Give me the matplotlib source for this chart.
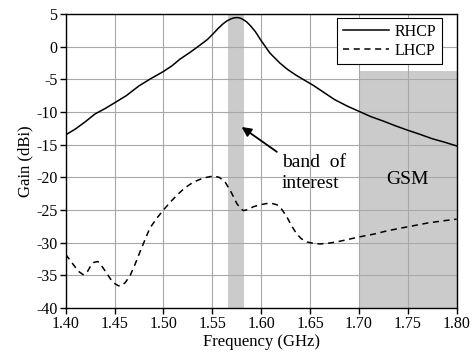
import numpy as np
import matplotlib
matplotlib.use("Agg")
import matplotlib.pyplot as plt

# ============================================================
# DATA
# ============================================================
rhcp_freq = [1.400, 1.410, 1.420, 1.430, 1.440, 1.450, 1.462, 1.475, 1.487,
             1.500, 1.509, 1.517, 1.527, 1.5375, 1.545, 1.551, 1.556, 1.561,
             1.565, 1.569, 1.572, 1.575, 1.578, 1.581, 1.585, 1.589, 1.594,
             1.600, 1.609, 1.619, 1.627, 1.636, 1.645, 1.653, 1.665, 1.675,
             1.688, 1.700, 1.712, 1.725, 1.737, 1.750, 1.762, 1.775, 1.787,
             1.800]
rhcp_gain = [-13.5, -12.6, -11.5, -10.3, -9.5, -8.6, -7.5, -6.0, -4.9,
             -3.8, -2.9, -1.9, -0.9, 0.25, 1.1, 2.0, 2.8, 3.5,
             3.95, 4.25, 4.4, 4.45, 4.4, 4.2, 3.8, 3.2, 2.3,
             0.9, -1.0, -2.5, -3.5, -4.4, -5.2, -5.9, -7.1, -8.1,
             -9.1, -9.9, -10.7, -11.4, -12.1, -12.8, -13.4, -14.1, -14.6,
             -15.2]

lhcp_freq = [1.400, 1.405, 1.4095, 1.414, 1.418, 1.422, 1.425, 1.429, 1.433,
             1.437, 1.442, 1.446, 1.4505, 1.454, 1.457, 1.461, 1.466, 1.471,
             1.476, 1.481, 1.486, 1.493, 1.500, 1.507, 1.514, 1.522, 1.531,
             1.541, 1.551, 1.557, 1.563, 1.569, 1.575, 1.579, 1.582, 1.587,
             1.592, 1.599, 1.606, 1.611, 1.616, 1.621, 1.626, 1.631, 1.636,
             1.641, 1.647, 1.653, 1.660, 1.668, 1.677, 1.689, 1.701, 1.715,
             1.7285, 1.742, 1.756, 1.770, 1.784, 1.800]
lhcp_gain = [-31.8, -32.8, -33.7, -34.5, -34.9, -34.5, -33.7, -33.0, -32.9,
             -33.6, -34.7, -35.6, -36.3, -36.6, -36.6, -36.1, -35.0, -33.3,
             -31.4, -29.6, -27.8, -26.3, -25.0, -23.8, -22.7, -21.6, -20.7,
             -20.1, -19.8, -20.0, -20.7, -22.2, -24.0, -24.8, -25.1, -24.9,
             -24.5, -24.2, -24.0, -24.0, -24.2, -24.9, -26.0, -27.4, -28.6,
             -29.4, -29.9, -30.1, -30.2, -30.1, -29.9, -29.5, -29.1, -28.7,
             -28.2, -27.8, -27.4, -27.0, -26.7, -26.4]

band_of_interest = (1.566, 1.582)
gsm_band = (1.700, 1.800)
gsm_top = -3.7

x_ticks = [1.40, 1.45, 1.50, 1.55, 1.60, 1.65, 1.70, 1.75, 1.80]
y_ticks = [5, 0, -5, -10, -15, -20, -25, -30, -35, -40]

# ============================================================
# PLOT
# ============================================================
plt.rcParams["font.family"] = ["Liberation Serif", "DejaVu Serif"]
plt.rcParams["font.size"] = 11.5

fig = plt.figure(figsize=(4.74, 3.54), dpi=100)
ax = fig.add_axes([0.1386, 0.130, 0.825, 0.8305])

# shaded bands
ax.axvspan(band_of_interest[0], band_of_interest[1], color="#cbcbcb", lw=0, zorder=1)
ax.fill_between(gsm_band, [gsm_top, gsm_top], [-40, -40], color="#cbcbcb", lw=0, zorder=1)

ax.grid(True, color="#a8a8a8", linewidth=0.8, zorder=2)
ax.set_axisbelow(False)

ax.plot(rhcp_freq, rhcp_gain, color="black", linewidth=1.1, label="RHCP", zorder=3)
ax.plot(lhcp_freq, lhcp_gain, color="black", linewidth=1.1, linestyle=(0, (4, 3)),
        label="LHCP", zorder=3)

ax.set_xlim(1.40, 1.80)
ax.set_ylim(-40, 5)
ax.set_xticks(x_ticks)
ax.set_xticklabels([f"{t:.2f}" for t in x_ticks])
ax.set_yticks(y_ticks)
ax.set_yticklabels([str(t) for t in y_ticks])
ax.tick_params(direction="out", length=4, width=1, pad=2)
for sp in ax.spines.values():
    sp.set_linewidth(1.0)
    sp.set_zorder(4)

ax.set_xlabel("Frequency (GHz)", fontsize=12, labelpad=1)
ax.set_ylabel("Gain (dBi)", fontsize=12, labelpad=2)

leg = ax.legend(loc="upper right", bbox_to_anchor=(0.962, 0.986), borderaxespad=0,
                frameon=True, fancybox=False, edgecolor="black", framealpha=1,
                handlelength=2.9, handletextpad=0.35, borderpad=0.35, labelspacing=0.2)
leg.get_frame().set_linewidth(0.8)
leg.set_zorder(5)

ax.annotate("", xy=(1.580, -12.3), xytext=(1.616, -16.1),
            arrowprops=dict(arrowstyle="-|>", color="black", lw=1.3,
                            mutation_scale=14, shrinkA=0, shrinkB=0),
            zorder=5)
ax.text(1.621, -19.3, "band  of\ninterest", ha="left", va="center", fontsize=14,
        linespacing=1.3, zorder=5)
ax.text(1.75, -20.3, "GSM", ha="center", va="center", fontsize=14, zorder=5)

fig.savefig("out.png", dpi=100)
